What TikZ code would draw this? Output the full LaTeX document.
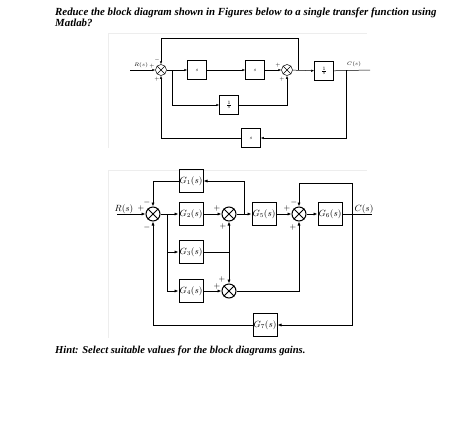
\documentclass[tikz,border=0pt]{standalone}
\usepackage{fontspec}
\setmainfont{Liberation Serif}
\usetikzlibrary{arrows.meta}
\begin{document}
\begin{tikzpicture}[x=1pt,y=-1pt,
  frame/.style={draw=black!7,line width=0.6pt},
  thin/.style={line width=0.5pt},
  thick/.style={line width=1pt},
  tarr/.style={thin,-{Latex[length=3pt,width=2.4pt]}},
  barr/.style={thick,-{Latex[length=4pt,width=3.2pt]}},
  tblock/.style={draw,thin,minimum width=19pt,minimum height=19pt,inner sep=0pt,font=\fontsize{4.5}{5}\selectfont},
  tsum/.style={draw,thin,circle,minimum size=11pt,inner sep=0pt},
  bblock/.style={draw,thick,minimum width=24pt,minimum height=23pt,inner sep=0pt,font=\fontsize{9}{9}\selectfont},
  bsum/.style={draw,thick,circle,minimum size=14pt,inner sep=0pt},
  tsign/.style={font=\fontsize{4.5}{5}\selectfont,inner sep=0pt},
  bsign/.style={font=\fontsize{8}{8}\selectfont,inner sep=0pt},
  ttl/.style={anchor=base west,inner sep=0pt,font=\fontsize{10.85}{12}\selectfont\bfseries\itshape}
]
\useasboundingbox (0,0) rectangle (458,421);
% texts
\node[ttl] (t1) at (55,15) {Reduce the block diagram shown in Figures below to a single transfer function using};
\node[ttl] (t2) at (55,26.5) {Matlab?};
\node[ttl,font=\fontsize{10.6}{11}\selectfont\bfseries\itshape] (hint) at (55,353) {Hint: Select suitable values for the block diagrams gains.};
% frames
\draw[frame] (108,148) -- (108,33) -- (367,33);
\draw[frame] (108,338) -- (108,170) -- (367,170);

% ---------------- top diagram
\node[tsum] (j1) at (161,70) {};
\node[tblock] (b1) at (197,70) {$s$};
\node[tblock] (b2) at (255,70) {$s$};
\node[tsum] (j2) at (287,70) {};
\node[tblock] (b3) at (324,71) {$\frac{1}{s}$};
\node[tblock] (b4) at (229,105) {$\frac{1}{s}$};
\node[tblock] (b5) at (251,138) {$s$};
\foreach \j in {j1,j2}{\draw[thin] (\j.45) -- (\j.225) (\j.135) -- (\j.315);}
\coordinate (rin) at (130,70);
\coordinate (cout) at (370,70);
\coordinate (tap1) at (346,70);
\coordinate (tap2) at (298,70);
\coordinate (br1) at (172,70);
\node[tsign,anchor=base] (rl) at (141,66) {$R(s)$};
\node[tsign,anchor=base] (cl) at (354,65) {$C(s)$};
\draw[tarr] (rin) -- (j1);
\draw[tarr] (j1) -- (b1);
\draw[tarr] (b1) -- (b2);
\draw[tarr] (b2) -- (j2);
\draw[tarr] (j2) -- (b3);
\draw[thin] (b3) -- (cout);
\draw[tarr] (tap1) |- (b5.east);
\draw[tarr] (b5.west) -| (j1.south);
\draw[tarr] (tap2) -- (298,38) -| (j1.north);
\draw[tarr] (br1) |- (b4.west);
\draw[tarr] (b4.east) -| (j2.south);
\node[tsign] (s1) at (152,66) {$+$};
\node[tsign] (s2) at (157,60) {$-$};
\node[tsign] (s3) at (157,79) {$+$};
\node[tsign] (s4) at (278,65) {$+$};
\node[tsign] (s5) at (282,79) {$+$};

% ---------------- bottom diagram
\node[bsum] (jA) at (153,214) {};
\node[bblock] (G1) at (191,181) {$G_1(s)$};
\node[bblock] (G2) at (191,214) {$G_2(s)$};
\node[bblock] (G3) at (191,252) {$G_3(s)$};
\node[bblock] (G4) at (191,291) {$G_4(s)$};
\node[bsum] (jB) at (229,214) {};
\node[bsum] (jC) at (229,291) {};
\node[bblock] (G5) at (264,214) {$G_5(s)$};
\node[bsum] (jD) at (299,214) {};
\node[bblock] (G6) at (330,214) {$G_6(s)$};
\node[bblock] (G7) at (265,325) {$G_7(s)$};
\foreach \j in {jA,jB,jC,jD}{\draw[thick] (\j.45) -- (\j.225) (\j.135) -- (\j.315);}
\coordinate (Rin) at (117,214);
\coordinate (Cout) at (372,214);
\coordinate (tapA) at (352,214);
\coordinate (tapB) at (244,214);
\coordinate (brA) at (167,214);
\coordinate (brB) at (167,252);
\coordinate (g3j) at (229,252);
\node[bsign,font=\fontsize{9}{9}\selectfont,anchor=base] (Rl) at (124,211) {$R(s)$};
\node[bsign,font=\fontsize{9}{9}\selectfont,anchor=base] (Cl) at (364,211) {$C(s)$};
\draw[barr] (Rin) -- (jA);
\draw[barr] (jA) -- (G2);
\draw[barr] (G2) -- (jB);
\draw[barr] (jB) -- (G5);
\draw[barr] (G5) -- (jD);
\draw[barr] (jD) -- (G6);
\draw[thick] (G6) -- (Cout);
\draw[barr] (tapB) |- (G1.east);
\draw[barr] (G1.west) -| (jA.north);
\draw[barr] (brA) |- (G4.west);
\draw[barr] (brB) -- (G3.west);
\draw[thick] (G3.east) -- (g3j);
\draw[barr] (g3j) -- (jB.south);
\draw[barr] (g3j) -- (jC.north);
\draw[barr] (G4) -- (jC);
\draw[barr] (jC.east) -| (jD.south);
\draw[barr] (tapA) |- (299,183) -- (jD.north);
\draw[barr] (tapA) |- (G7.east);
\draw[barr] (G7.west) -| (jA.south);
\node[bsign] (a1) at (141,208) {$+$};
\node[bsign] (a2) at (147,202) {$-$};
\node[bsign] (a3) at (147,227) {$-$};
\node[bsign] (b1s) at (217,208) {$+$};
\node[bsign] (b2s) at (223,226) {$+$};
\node[bsign] (c1s) at (222,279) {$+$};
\node[bsign] (c2s) at (217,286) {$+$};
\node[bsign] (d1s) at (287,208) {$+$};
\node[bsign] (d2s) at (294,202) {$-$};
\node[bsign] (d3s) at (293,227) {$+$};
\end{tikzpicture}
\end{document}
